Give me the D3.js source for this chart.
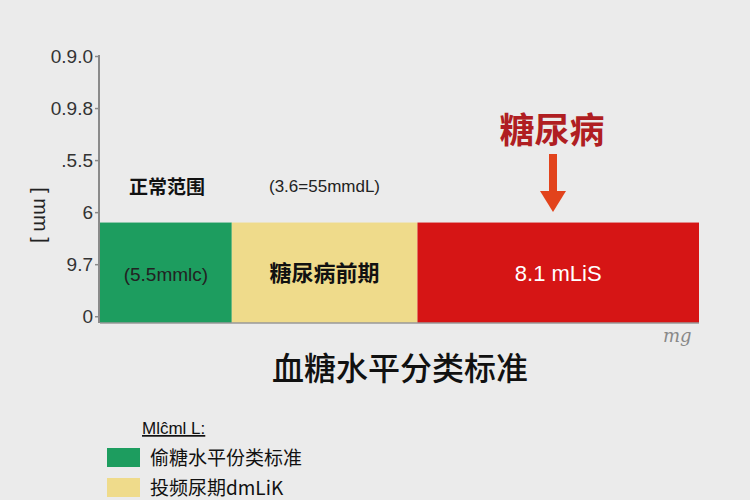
<html>
<head>
<meta charset="utf-8">
<title>血糖水平分类标准</title>
<style>
body { margin: 0; background: #ebebeb; }
</style>
</head>
<body>
<script src="https://cdn.jsdelivr.net/npm/d3@7/dist/d3.min.js"></script>
<svg id="chart"></svg>
<script>

// segment bounds along the bar, label inside each one
var segNames = ["正常", "糖尿病前期", "糖尿病"];
var segStart = [0, 2.2, 5.3];
var segEnd = [2.2, 5.3, 10];
var segColors = ["#1d9d5f", "#efdb8b", "#d61515"];
var segLabels = ["(5.5mmlc)", "糖尿病前期", "8.1 mLiS"];
var segTextColors = ["#222", "#111", "#fff"];
var barTop = 1.8;

var yTickVals = [0, 1, 2, 3, 4, 5];
var yTickLabels = ["0", "9.7", "6", ".5.5", "0.9.8", "0.9.0"];

var legendNames = ["偷糖水平份类标准", "投频尿期dmLiK"];
var legendColors = ["#1d9d5f", "#efdb8b"];

var CJK = "'Noto Sans CJK SC', sans-serif";
var LAT = "'Liberation Sans', Arial, sans-serif";

var W = 750, H = 500;
var svg = d3.select("#chart").attr("width", W).attr("height", H);

svg.append("rect").attr("width", W).attr("height", H).attr("fill", "#ebebeb");

var x = d3.scaleLinear().domain([0, 10]).range([100, 699]);
var y = d3.scaleLinear().domain([-0.13, 5]).range([323, 56]);

// bars
svg.selectAll("rect.seg")
  .data(segStart)
  .enter().append("rect")
    .attr("class", "seg")
    .attr("x", function(d) { return x(d); })
    .attr("y", y(barTop))
    .attr("width", function(d, i) { return x(segEnd[i]) - x(d); })
    .attr("height", y(-0.13) - y(barTop))
    .attr("fill", function(d, i) { return segColors[i]; });

svg.selectAll("text.seg")
  .data(segLabels)
  .enter().append("text")
    .attr("class", "seg")
    .attr("x", function(d, i) { return (x(segStart[i]) + x(segEnd[i])) / 2; })
    .attr("y", (y(barTop) + y(-0.13)) / 2 + 8)
    .attr("text-anchor", "middle")
    .style("font-family", function(d, i) { return i == 1 ? CJK : LAT; })
    .style("font-weight", function(d, i) { return i == 1 ? "bold" : "normal"; })
    .style("font-size", function(d, i) { return i == 1 ? "22px" : (i == 0 ? "19px" : "22px"); })
    .attr("fill", function(d, i) { return segTextColors[i]; })
    .text(function(d) { return d; });

// bottom line under bars
svg.append("line")
  .attr("x1", x(0)).attr("x2", x(10))
  .attr("y1", y(-0.13)).attr("y2", y(-0.13))
  .attr("stroke", "#999").attr("stroke-width", 1.5);

// y axis
var yAxis = d3.axisLeft(y)
  .tickValues(yTickVals)
  .tickSize(4)
  .tickFormat(function(d, i) { return yTickLabels[i]; });

var ya = svg.append("g")
  .attr("transform", "translate(99,0)")
  .call(yAxis);
ya.select(".domain").remove();
ya.append("line").attr("y1", 55).attr("y2", 323).attr("stroke", "#8a8a8a").attr("stroke-width", 2);
ya.selectAll(".tick line").attr("stroke", "#8a8a8a").attr("stroke-width", 1.5);
ya.selectAll(".tick text")
  .style("font-family", LAT)
  .style("font-size", "19px")
  .attr("fill", "#333")
  .attr("x", -6);

// y label
svg.append("text")
  .attr("transform", "translate(34,215) rotate(90)")
  .attr("text-anchor", "middle")
  .style("font-family", LAT)
  .style("font-size", "20px")
  .attr("fill", "#222")
  .text("[  mm ]");

// annotations above bars
svg.append("text")
  .attr("x", 129).attr("y", 194)
  .style("font-family", CJK).style("font-size", "19px").style("font-weight", "bold")
  .attr("fill", "#111")
  .text("正常范围");
svg.append("text")
  .attr("x", 269).attr("y", 192)
  .style("font-family", LAT).style("font-size", "17px")
  .attr("fill", "#222")
  .text("(3.6=55mmdL)");

svg.append("text")
  .attr("x", 552).attr("y", 143)
  .attr("text-anchor", "middle")
  .style("font-family", CJK).style("font-size", "35px").style("font-weight", "bold")
  .attr("fill", "#b01e22")
  .text("糖尿病");

// arrow
svg.append("rect").attr("x", 549).attr("y", 154).attr("width", 8).attr("height", 40).attr("fill", "#e2431c");
svg.append("path").attr("d", "M540,191 L566,191 L553,212 Z").attr("fill", "#e2431c");

svg.append("text")
  .attr("x", 663).attr("y", 342)
  .style("font-family", "'DejaVu Serif', serif").style("font-style", "italic").style("font-size", "18px")
  .attr("fill", "#888")
  .text("mg");

// title
svg.append("text")
  .attr("x", 400).attr("y", 380)
  .attr("text-anchor", "middle")
  .style("font-family", CJK).style("font-size", "32px").style("font-weight", "500")
  .attr("fill", "#111")
  .text("血糖水平分类标准");

// legend
svg.append("text")
  .attr("x", 142).attr("y", 434)
  .style("font-family", LAT).style("font-size", "17px")
  .attr("fill", "#111")
  .attr("text-decoration", "underline")
  .text("Mlĉml L:");

var lg = svg.selectAll("g.leg")
  .data(legendNames)
  .enter().append("g")
    .attr("class", "leg")
    .attr("transform", function(d, i) { return "translate(107," + (448 + i * 30) + ")"; });
lg.append("rect").attr("width", 33).attr("height", 19)
  .attr("fill", function(d, i) { return legendColors[i]; });
lg.append("text").attr("x", 43).attr("y", 17)
  .style("font-family", CJK).style("font-size", "19px")
  .attr("fill", "#111")
  .text(function(d) { return d; });

</script>
</body>
</html>
